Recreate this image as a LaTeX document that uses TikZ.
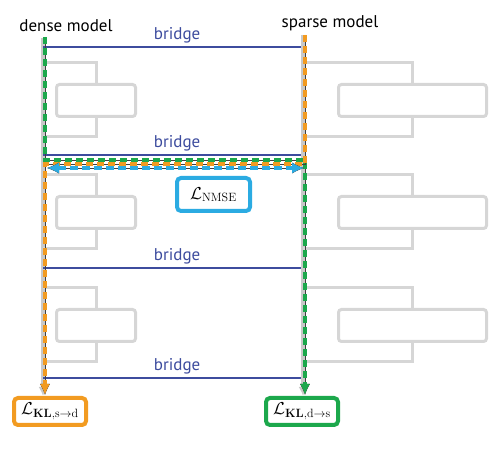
\documentclass[tikz,border=0pt]{standalone}
\usepackage[no-math]{fontspec}
\setmainfont{PT Sans}
\usepackage{amsmath}
\usepackage{tikz}
\usetikzlibrary{arrows.meta}
\usetikzlibrary{positioning}

\definecolor{trunkgray}{HTML}{C9C9C9}
\definecolor{blockgray}{HTML}{D6D6D6}
\definecolor{bridgeblue}{HTML}{3D4C9E}
\definecolor{klgreen}{HTML}{1CA84C}
\definecolor{klorange}{HTML}{F29B21}
\definecolor{nmsecyan}{HTML}{2BABE2}

\begin{document}
\begin{tikzpicture}[x=1pt,y=-1pt,font=\fontsize{17}{20}\selectfont,
  trunk/.style={line width=4.5pt,draw=trunkgray},
  block/.style={line width=3pt,draw=blockgray},
  layerbox/.style={block,rounded corners=3pt,minimum height=32pt,inner sep=0pt},
  bridgeline/.style={line width=2.5pt,draw=bridgeblue},
  lossline/.style={line width=3.5pt,dash pattern=on 7pt off 4pt,
    preaction={draw=black!75,line width=0.5pt,solid}},
  lossbox/.style={draw,line width=4pt,rounded corners=4pt,fill=white,
    minimum width=72pt,minimum height=27pt,inner sep=0pt,
    font=\fontsize{18}{21}\selectfont}]
  \useasboundingbox (0,0) rectangle (504,465);

  \node (dense) at (66,26) {dense model};
  \node (sparse) at (330,23) {sparse model};

  % trunks of the two models
  \coordinate (dtop) at (43,38);  \coordinate (dbot) at (43,396);
  \coordinate (stop) at (303,35); \coordinate (sbot) at (303,396);
  \draw[trunk,-{Latex[length=9pt,width=9pt]}] (dtop) -- (dbot);
  \draw[trunk,-{Latex[length=9pt,width=9pt]}] (stop) -- (sbot);

  % layers
  \foreach \i/\y in {1/63,2/175,3/288} {
    \coordinate (din\i) at (43,\y);  \coordinate (dout\i) at (43,\y+74);
    \coordinate (sin\i) at (303,\y); \coordinate (sout\i) at (303,\y+74);
    \node[layerbox,minimum width=79pt] (dlayer\i) at (96,\y+37.5) {};
    \node[layerbox,minimum width=148pt] (slayer\i) at (412.5,\y+37.5) {};
    \draw[block] (din\i) -| (dlayer\i.north);
    \draw[block] (dlayer\i.south) |- (dout\i);
    \draw[block] (sin\i) -| (slayer\i.north);
    \draw[block] (slayer\i.south) |- (sout\i);
  }

  % bridges
  \foreach \i/\y in {1/47,2/155,3/268,4/378} {
    \coordinate (db\i) at (43,\y); \coordinate (sb\i) at (301,\y);
    \draw[bridgeline] (db\i) -- (sb\i) node[pos=.52,above=-1pt,text=bridgeblue] {bridge};
  }

  % losses
  \node[lossbox,draw=klorange] (klsd) at (50,411.5) {$\mathcal{L}_{\mathbf{KL},\mathrm{s\to d}}$};
  \node[lossbox,draw=klgreen] (klds) at (302,411.5) {$\mathcal{L}_{\mathbf{KL},\mathrm{d\to s}}$};
  \node[lossbox,draw=nmsecyan,minimum width=73pt,minimum height=33pt] (nmse) at (213.5,194.5) {$\mathcal{L}_{\mathrm{NMSE}}$};

  \coordinate (gstart) at (45,37);  \coordinate (gend) at (305,395);
  \coordinate (ostart) at (305,35); \coordinate (oend) at (45,395);
  \coordinate (cleft) at (47,168);  \coordinate (cright) at (304,168);
  \draw[lossline,klgreen,-{Latex[length=11pt,width=10pt]}] (gstart) |- (305,160) -- (gend);
  \draw[lossline,klorange,-{Latex[length=11pt,width=10pt]}] (ostart) |- (45,164) -- (oend);
  \draw[lossline,nmsecyan,line width=4pt,dash pattern=on 8pt off 4pt,
    {Latex[length=12pt,width=11pt]}-{Latex[length=12pt,width=11pt]}] (cleft) -- (cright);
\end{tikzpicture}
\end{document}
